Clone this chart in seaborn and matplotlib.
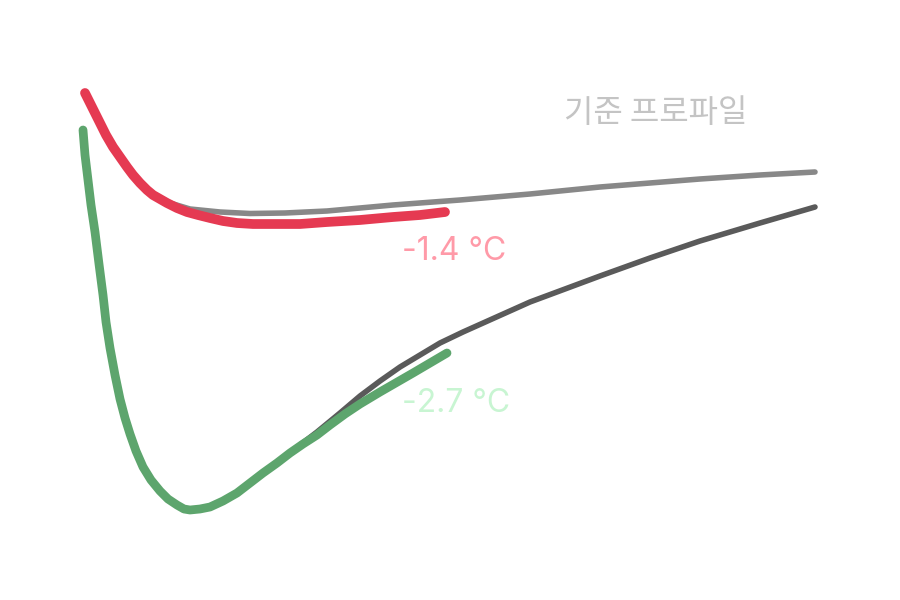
import matplotlib
matplotlib.use("Agg")
import matplotlib.pyplot as plt
import seaborn as sns

# curve samples (x = position, y = depth, axis inverted)
base_x = [150, 170, 190, 220, 250, 285, 327, 360, 393, 460, 530, 600, 700, 760, 815]
base_y = [192, 203, 209, 212, 213.5, 213, 211, 208, 205, 200, 194, 187, 179, 175, 172]

deep_x = [300, 317, 340, 360, 380, 400, 420, 440, 463, 530, 600, 650, 700, 760, 815]
deep_y = [445, 432, 413, 396, 381, 367, 355, 343, 332, 302, 276, 258, 241, 223, 207]

red_x = [85, 92, 100, 106, 113, 120, 127, 133, 140, 147, 153, 160, 167, 177,
         187, 198, 210, 223, 237, 253, 270, 300, 327, 360, 393, 420, 445]
red_y = [93, 107, 123, 135, 147, 157, 167, 175, 183, 190, 195, 199, 203, 208,
         212, 215, 218, 221, 223, 224, 224, 224, 222, 220, 217, 215, 212]

green_x = [83, 85, 88, 91, 95, 99, 103, 106, 110, 115, 120, 125, 130, 136, 143,
           151, 160, 168, 177, 184, 190, 200, 210, 223, 237, 250, 263, 277, 290,
           303, 317, 330, 345, 360, 380, 413, 447]
green_y = [130, 155, 180, 205, 232, 264, 295, 322, 348, 375, 399, 418, 434, 451, 467,
           480, 491, 499, 505, 509, 510, 509, 507, 501, 493, 483, 473, 463, 453,
           444, 435, 425, 414, 404, 392, 373, 353]

labels = ["-1.4 °C", "-2.7 °C", "기준 프로파일"]

sns.set_style("white")
plt.rcParams['font.family'] = ['Noto Sans CJK KR', 'DejaVu Sans']

fig = plt.figure(figsize=(9, 6), dpi=100)
ax = fig.add_axes([0, 0, 1, 1])

line_kw = dict(ax=ax, sort=False, estimator=None, legend=False)
sns.lineplot(x=base_x, y=base_y, color='#888888', linewidth=4, **line_kw)
sns.lineplot(x=deep_x, y=deep_y, color='#5a5a5a', linewidth=4, **line_kw)
sns.lineplot(x=red_x, y=red_y, color='#e53a52', linewidth=7, **line_kw)
sns.lineplot(x=green_x, y=green_y, color='#5da56d', linewidth=6.3, **line_kw)

for ln in ax.get_lines():
    ln.set_solid_capstyle('round')
    ln.set_solid_joinstyle('round')

latin = ['Inter', 'DejaVu Sans']
ax.text(454, 252, labels[0], color='#ff9aa8', fontsize=23, ha='center', va='center', family=latin)
ax.text(456, 403, labels[1], color='#c8f5d2', fontsize=23, ha='center', va='center', family=latin)
ax.text(656, 113, labels[2], color='#c4c4c4', fontsize=23, ha='center', va='center')

ax.set_xlim(0, 900)
ax.set_ylim(600, 0)
ax.axis('off')

fig.savefig('out.png', dpi=100, facecolor='white')
